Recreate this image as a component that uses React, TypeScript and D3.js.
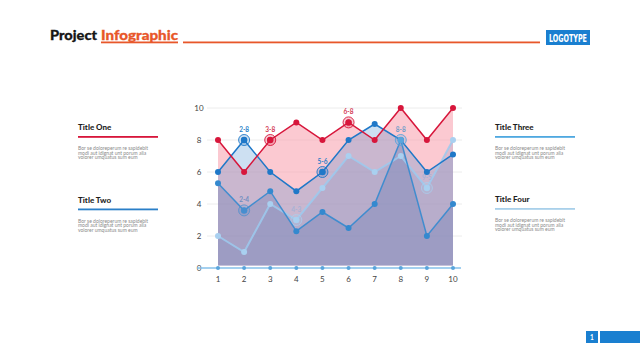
import React from "react";
import * as d3 from "d3";

const xValues = [1, 2, 3, 4, 5, 6, 7, 8, 9, 10];
const yTicks = [0, 2, 4, 6, 8, 10];
const seriesRed = [8, 6, 8, 9.1, 8, 9.1, 8, 10, 8, 10];
const seriesBlue = [6, 8, 6, 4.8, 6, 8, 9, 8, 6, 7.1];
const seriesMid = [5.3, 3.6, 4.8, 2.3, 3.5, 2.5, 4, 8, 2, 4];
const seriesLight = [2, 1, 4, 3, 5, 7, 6, 7, 5, 8];

const redMarks = [
  { i: 2, label: "3-8" },
  { i: 5, label: "6-8" },
];
const blueMarks = [
  { i: 1, label: "2-8" },
  { i: 4, label: "5-6" },
  { i: 7, label: "8-8" },
];
const midMarks = [{ i: 1, label: "2-4" }];
const lightMarks = [
  { i: 3, label: "4-3" },
  { i: 8, label: "9-5" },
];

const sideBlocks = [
  { title: "Title One", x: 78, y: 130, color: "#d7163b" },
  { title: "Title Two", x: 78, y: 202.5, color: "#2a7fc8" },
  { title: "Title Three", x: 495, y: 130, color: "#4fa8e0" },
  { title: "Title Four", x: 495, y: 202, color: "#a9d0ea" },
];
const bodyLines = [
  "Bor se doloreperum re sapidebit",
  "modi aut idignat unt porum alia",
  "volorer umquatus sum eum",
];

const RED = "#d7163b";
const BLUE = "#1f78c8";
const MID = "#3489cf";
const LIGHT = "#9ccaee";

export default function App() {
  const x = d3.scaleLinear().domain([1, 10]).range([218, 453]);
  const y = d3.scaleLinear().domain([0, 10]).range([268, 108]);
  const base = y(0) - 2.5;

  const area = d3
    .area<number>()
    .x((_, i) => x(xValues[i]))
    .y0(base)
    .y1((d) => y(d));
  const line = d3
    .line<number>()
    .x((_, i) => x(xValues[i]))
    .y((d) => y(d));

  const font = "Lato, 'Open Sans', sans-serif";

  const points = (data: number[], color: string, r = 3) =>
    data.map((d, i) => (
      <circle key={i} cx={x(xValues[i])} cy={y(d)} r={r} fill={color} />
    ));

  const rings = (
    data: number[],
    marks: { i: number; label: string }[],
    color: string,
    labelColor: string,
    opacity = 1,
    below = false
  ) =>
    marks.map((m) => (
      <g key={m.label} opacity={opacity}>
        <circle
          cx={x(xValues[m.i])}
          cy={y(data[m.i])}
          r={5.5}
          fill={color}
          fillOpacity={0.22}
          stroke={color}
          strokeWidth={0.9}
        />
        <circle cx={x(xValues[m.i])} cy={y(data[m.i])} r={3.2} fill={color} />
        <text
          x={x(xValues[m.i])}
          y={y(data[m.i]) + (below ? 13 : -8)}
          textAnchor="middle"
          fontSize={6.5}
          fontWeight={700}
          fill={labelColor}
          fontFamily={font}
        >
          {m.label}
        </text>
      </g>
    ));

  return (
    <svg
      width={640}
      height={360}
      style={{ position: "absolute", left: 0, top: 0, background: "#fff" }}
    >
      {/* header */}
      <text x={50} y={40} fontFamily={font} fontSize={14} fontWeight={900} fill="#161616" stroke="#161616" strokeWidth={0.3}>
        <tspan textLength={47} lengthAdjust="spacingAndGlyphs">Project</tspan>
        <tspan x={101} fill="#e8572a" stroke="#e8572a" textLength={77} lengthAdjust="spacingAndGlyphs">
          Infographic
        </tspan>
      </text>
      <rect x={101} y={41.5} width={77} height={1.8} fill="#e8572a" />
      <rect x={183} y={41.5} width={357} height={1.8} fill="#e8572a" />
      <rect x={546} y={30} width={44} height={15} fill="#1a7fd0" />
      <text
        x={568}
        y={41.6}
        textAnchor="middle"
        fontFamily="'Liberation Sans Narrow', 'DejaVu Sans Condensed', sans-serif"
        fontSize={10.5}
        fontWeight={700}
        fill="#fff"
        textLength={38}
        lengthAdjust="spacingAndGlyphs"
      >
        LOGOTYPE
      </text>

      {/* side blocks */}
      {sideBlocks.map((b) => (
        <g key={b.title}>
          <text x={b.x} y={b.y} fontFamily={font} fontSize={8} fontWeight={900} fill="#1e1e1e">
            {b.title}
          </text>
          <rect x={b.x} y={b.y + 6} width={80} height={1.8} fill={b.color} />
          {bodyLines.map((t, k) => (
            <text
              key={k}
              x={b.x}
              y={b.y + 20 + k * 4.7}
              fontFamily={font}
              fontSize={5}
              fill="#8a8a8a"
            >
              {t}
            </text>
          ))}
        </g>
      ))}

      {/* grid */}
      {yTicks.map((t) => (
        <g key={t}>
          {t > 0 && (
            <line x1={207} x2={462} y1={y(t)} y2={y(t)} stroke="#ececec" strokeWidth={1} />
          )}
          <text
            x={199}
            y={y(t) + 3}
            textAnchor="middle"
            fontFamily={font}
            fontSize={8}
            fill="#444"
          >
            {t}
          </text>
        </g>
      ))}

      {/* areas */}
      <path d={area(seriesRed) || ""} fill="#f8a5b2" fillOpacity={0.6} />
      <path d={area(seriesBlue) || ""} fill="#2d7cc8" fillOpacity={0.24} />
      <path d={area(seriesMid) || ""} fill="#3e5fa6" fillOpacity={0.24} />
      <path d={area(seriesLight) || ""} fill="#7288bc" fillOpacity={0.2} />

      {/* lines */}
      <path d={line(seriesLight) || ""} fill="none" stroke={LIGHT} strokeWidth={2} opacity={0.85} />
      {points(seriesLight, "#a9d0f0")}
      {rings(seriesLight, lightMarks, "#a9d0f0", "#9fb2d8", 0.8, false)}

      <path d={line(seriesMid) || ""} fill="none" stroke={MID} strokeWidth={1.5} opacity={0.9} />
      {points(seriesMid, MID)}
      {rings(seriesMid, midMarks, "#4a90d0", "#5f88c0", 0.85)}

      <path d={line(seriesBlue) || ""} fill="none" stroke={BLUE} strokeWidth={1.5} />
      {points(seriesBlue, BLUE)}

      <path d={line(seriesRed) || ""} fill="none" stroke={RED} strokeWidth={1.5} />
      {points(seriesRed, RED)}

      {rings(seriesBlue, blueMarks.filter((m) => m.i !== 7), BLUE, "#2a7fc8")}
      {rings(seriesBlue, blueMarks.filter((m) => m.i === 7), "#5aa5dc", "#6d9cc8")}
      {rings(seriesRed, redMarks, RED, "#d33a55")}

      {/* x axis */}
      <line x1={197} x2={461} y1={y(0)} y2={y(0)} stroke="#86c0ea" strokeWidth={1.5} />
      {xValues.map((v) => (
        <g key={v}>
          <circle cx={x(v)} cy={y(0)} r={2} fill="#5aa5dc" />
          <text
            x={x(v)}
            y={282}
            textAnchor="middle"
            fontFamily={font}
            fontSize={8}
            fill="#444"
          >
            {v}
          </text>
        </g>
      ))}

      {/* page number */}
      <rect x={586} y={331} width={12} height={12} fill="#1a7fd0" />
      <text x={592} y={339.5} textAnchor="middle" fontFamily={font} fontSize={6.5} fontWeight={700} fill="#fff">
        1
      </text>
      <rect x={600} y={331} width={40} height={12} fill="#1a7fd0" />
    </svg>
  );
}
